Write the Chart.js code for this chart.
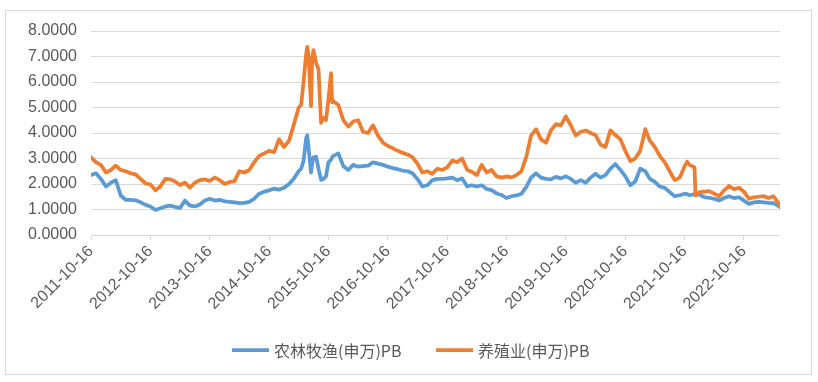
<!DOCTYPE html>
<html>
<head>
<meta charset="utf-8">
<script src="https://cdn.jsdelivr.net/npm/chart.js@4.4.1/dist/chart.umd.min.js"></script>
<style>
  html, body { margin: 0; padding: 0; background: #ffffff; }
  #wrap { width: 818px; height: 382px; position: relative; }
</style>
</head>
<body>
<div id="wrap"><canvas id="c" width="818" height="382"></canvas></div>
<script>
const seriesNames = ['农林牧渔(申万)PB', '养殖业(申万)PB'];

const dates = [
 '2011-10-16','2011-11-16','2011-12-16','2012-01-16','2012-02-16','2012-03-16','2012-04-16','2012-05-16','2012-06-16','2012-07-16',
 '2012-08-16','2012-09-16','2012-10-16','2012-11-16','2012-12-16','2013-01-16','2013-02-16','2013-03-16','2013-04-16','2013-05-16',
 '2013-06-16','2013-07-16','2013-08-16','2013-09-16','2013-10-16','2013-11-16','2013-12-16','2014-01-16','2014-02-16','2014-03-16',
 '2014-04-16','2014-05-16','2014-06-16','2014-07-16','2014-08-16','2014-09-16','2014-10-16','2014-11-16','2014-12-16','2015-01-16',
 '2015-02-16','2015-03-16','2015-04-16','2015-05-01','2015-05-16','2015-06-01','2015-06-08','2015-06-16','2015-07-01','2015-07-08',
 '2015-07-16','2015-08-01','2015-08-16','2015-09-01','2015-09-16','2015-10-01','2015-10-16','2015-11-01','2015-11-08','2015-11-16',
 '2015-12-16','2016-01-16','2016-02-16','2016-03-16','2016-04-16','2016-05-16','2016-06-16','2016-07-16','2016-08-16','2016-09-16',
 '2016-10-16','2016-11-16','2016-12-16','2017-01-16','2017-02-16','2017-03-16','2017-04-16','2017-05-16','2017-06-16','2017-07-16',
 '2017-08-16','2017-09-16','2017-10-16','2017-11-16','2017-12-16','2018-01-16','2018-02-16','2018-03-16','2018-04-16','2018-05-16',
 '2018-06-16','2018-07-16','2018-08-16','2018-09-16','2018-10-16','2018-11-16','2018-12-16','2019-01-16','2019-02-16','2019-03-16',
 '2019-04-16','2019-05-16','2019-06-16','2019-07-16','2019-08-16','2019-09-16','2019-10-16','2019-11-16','2019-12-16','2020-01-16',
 '2020-02-16','2020-03-16','2020-04-16','2020-05-16','2020-06-16','2020-07-16','2020-08-16','2020-09-16','2020-10-16','2020-11-16',
 '2020-12-16','2021-01-16','2021-02-16','2021-03-16','2021-04-16','2021-05-16','2021-06-16','2021-07-16','2021-08-16','2021-09-16',
 '2021-10-16','2021-11-01','2021-11-16','2021-12-16','2021-12-22','2022-01-16','2022-02-16','2022-03-16','2022-04-16','2022-05-16',
 '2022-06-16','2022-07-16','2022-08-16','2022-09-16','2022-10-16','2022-11-16','2022-12-16','2023-01-16','2023-02-16','2023-03-16',
 '2023-04-16','2023-05-16','2023-05-26'
];

const agriPB = [
 2.35,2.42,2.20,1.90,2.05,2.15,1.55,1.38,1.38,1.36,
 1.28,1.18,1.12,0.98,1.05,1.12,1.15,1.10,1.06,1.35,
 1.15,1.12,1.20,1.35,1.42,1.35,1.38,1.32,1.30,1.28,
 1.25,1.26,1.30,1.42,1.62,1.70,1.75,1.82,1.78,1.85,
 2.00,2.20,2.50,2.60,2.90,3.80,3.90,3.40,2.45,2.80,
 3.05,3.07,2.60,2.16,2.20,2.30,2.85,2.95,3.05,3.10,
 3.20,2.70,2.55,2.75,2.68,2.70,2.72,2.85,2.80,2.75,
 2.68,2.62,2.58,2.52,2.50,2.42,2.20,1.90,1.95,2.15,
 2.20,2.20,2.22,2.25,2.15,2.22,1.90,1.95,1.90,1.95,
 1.80,1.76,1.63,1.57,1.45,1.52,1.55,1.62,1.90,2.25,
 2.42,2.25,2.20,2.18,2.28,2.22,2.30,2.20,2.05,2.15,
 2.05,2.25,2.40,2.25,2.35,2.60,2.78,2.55,2.30,1.95,
 2.10,2.60,2.50,2.20,2.08,1.90,1.85,1.68,1.52,1.56,
 1.62,1.60,1.56,1.60,1.58,1.58,1.48,1.46,1.42,1.35,
 1.45,1.52,1.45,1.48,1.35,1.22,1.28,1.30,1.28,1.26,
 1.25,1.14,1.10
];

const livestockPB = [
 3.05,2.85,2.75,2.45,2.55,2.72,2.55,2.50,2.42,2.38,
 2.20,2.02,1.98,1.75,1.90,2.20,2.18,2.10,1.96,2.05,
 1.86,2.05,2.15,2.18,2.12,2.25,2.15,2.00,2.08,2.10,
 2.50,2.45,2.55,2.85,3.10,3.20,3.30,3.25,3.75,3.45,
 3.70,4.30,5.00,5.10,6.00,7.10,7.38,7.00,5.05,6.90,
 7.25,6.75,6.50,4.40,4.60,4.50,5.30,6.35,5.20,5.25,
 5.10,4.50,4.25,4.45,4.50,4.05,4.00,4.30,3.90,3.62,
 3.49,3.40,3.30,3.22,3.15,3.05,2.80,2.45,2.50,2.40,
 2.60,2.55,2.65,2.92,2.85,3.00,2.55,2.48,2.35,2.75,
 2.45,2.55,2.30,2.25,2.30,2.26,2.35,2.50,3.10,3.90,
 4.15,3.75,3.62,4.10,4.35,4.30,4.65,4.30,3.90,4.05,
 4.10,4.00,3.92,3.55,3.45,4.10,3.92,3.75,3.30,2.90,
 3.00,3.30,4.15,3.70,3.45,3.10,2.85,2.50,2.15,2.25,
 2.70,2.87,2.75,2.65,1.55,1.68,1.70,1.72,1.62,1.52,
 1.75,1.92,1.80,1.85,1.70,1.42,1.48,1.50,1.52,1.45,
 1.52,1.25,1.10
];

const tickDates = ['2011-10-16','2012-10-16','2013-10-16','2014-10-16','2015-10-16','2016-10-16',
                   '2017-10-16','2018-10-16','2019-10-16','2020-10-16','2021-10-16','2022-10-16'];

const yTicks = [0, 1, 2, 3, 4, 5, 6, 7, 8];

function toDay(s) { return Date.parse(s + 'T00:00:00Z') / 86400000; }
const tickMap = {};
tickDates.forEach(d => { tickMap[toDay(d)] = d; });

const textColor = '#595959';
const gridColor = '#d9d9d9';

const frame = {
  id: 'frame',
  beforeDraw(chart) {
    const ctx = chart.ctx;
    ctx.save();
    ctx.fillStyle = '#ffffff';
    ctx.fillRect(0, 0, chart.width, chart.height);
    ctx.strokeStyle = gridColor;
    ctx.lineWidth = 1;
    ctx.strokeRect(5.5, 10.5, 806, 364);
    ctx.restore();
  }
};

// Excel-style bottom legend (line swatch + label), items placed like the original
const excelLegend = {
  id: 'excelLegend',
  afterDraw(chart, args, opts) {
    const ctx = chart.ctx;
    ctx.save();
    ctx.font = opts.font;
    ctx.textBaseline = 'middle';
    ctx.textAlign = 'left';
    chart.data.datasets.forEach((ds, i) => {
      const x0 = opts.starts[i];
      ctx.strokeStyle = ds.borderColor;
      ctx.lineWidth = ds.borderWidth;
      ctx.lineCap = 'butt';
      ctx.beginPath();
      ctx.moveTo(x0, opts.y);
      ctx.lineTo(x0 + opts.swatch, opts.y);
      ctx.stroke();
      ctx.fillStyle = textColor;
      ctx.fillText(ds.label, x0 + opts.swatch + opts.gap, opts.y + 1);
    });
    ctx.restore();
  }
};

new Chart(document.getElementById('c'), {
  type: 'line',
  data: {
    datasets: [
      {
        label: seriesNames[0],
        data: dates.map((d, i) => ({ x: toDay(d), y: agriPB[i] })),
        borderColor: '#5B9BD5',
        backgroundColor: '#5B9BD5',
        borderWidth: 3.75,
        borderJoinStyle: 'round',
        borderCapStyle: 'round',
        pointRadius: 0,
        tension: 0,
        order: 1
      },
      {
        label: seriesNames[1],
        data: dates.map((d, i) => ({ x: toDay(d), y: livestockPB[i] })),
        borderColor: '#ED7D31',
        backgroundColor: '#ED7D31',
        borderWidth: 3.75,
        borderJoinStyle: 'round',
        borderCapStyle: 'round',
        pointRadius: 0,
        tension: 0,
        order: 0
      }
    ]
  },
  options: {
    responsive: false,
    animation: false,
    layout: { padding: { left: 15, right: 5, top: 31, bottom: 49 } },
    plugins: {
      tooltip: { enabled: false },
      legend: { display: false },
      excelLegend: {
        starts: [232, 436],
        swatch: 37,
        gap: 5,
        y: 350,
        font: "16px 'Noto Sans CJK SC', sans-serif"
      }
    },
    scales: {
      x: {
        type: 'linear',
        min: toDay(dates[0]),
        max: toDay(dates[dates.length - 1]),
        afterBuildTicks: (axis) => { axis.ticks = tickDates.map(d => ({ value: toDay(d) })); },
        afterFit: (axis) => { axis.height = 98; },
        grid: { drawOnChartArea: false, drawTicks: true, tickLength: 5, color: gridColor },
        border: { display: true, color: gridColor, width: 1 },
        ticks: {
          autoSkip: false,
          maxRotation: 45,
          minRotation: 45,
          padding: 2,
          color: textColor,
          font: { family: "'Liberation Sans', sans-serif", size: 16 },
          callback: (v) => tickMap[v] || ''
        }
      },
      y: {
        min: 0,
        max: 8,
        afterBuildTicks: (axis) => { axis.ticks = yTicks.map(v => ({ value: v })); },
        afterFit: (axis) => { axis.width = 76; },
        grid: { color: gridColor, drawTicks: false },
        border: { display: false },
        ticks: {
          padding: 14,
          color: textColor,
          font: { family: "'Liberation Sans', sans-serif", size: 16 },
          callback: (v) => Number(v).toFixed(4)
        }
      },
      yRight: {
        position: 'right',
        min: 0,
        max: 8,
        afterFit: (axis) => { axis.width = 33; },
        grid: { drawOnChartArea: false, drawTicks: false },
        border: { display: false },
        ticks: { display: false }
      }
    }
  },
  plugins: [frame, excelLegend]
});
</script>
</body>
</html>
